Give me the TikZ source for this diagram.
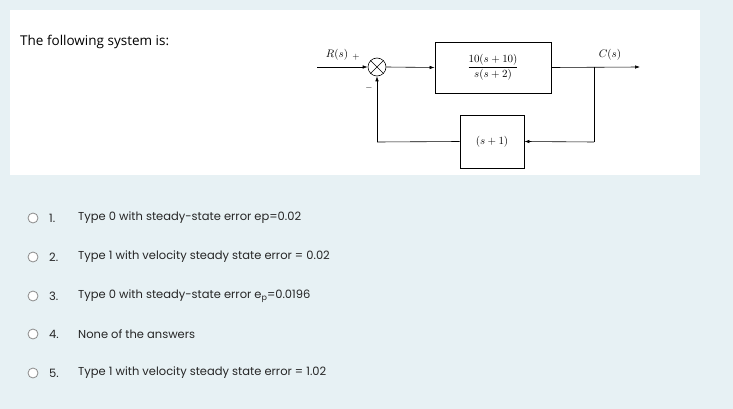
\documentclass[tikz,border=0pt]{standalone}
\usepackage{fontspec}
\setmainfont{Liberation Serif}
\newfontfamily\qfont{Open Sans}
\newfontfamily\afont{Poppins}
\usetikzlibrary{arrows.meta}
\definecolor{bgc}{HTML}{E7F1F4}
\definecolor{radio}{HTML}{8A8A8A}
\tikzset{blk/.style={draw,line width=0.8pt,inner sep=0pt},
 sig/.style={line width=0.6pt,-{Latex[length=5pt,width=3.5pt]}},
 wire/.style={line width=0.6pt},
 opt/.style={anchor=west,font=\afont\fontsize{11.5}{13}\selectfont,text=black!85,inner sep=0pt},
 rad/.style={circle,draw=radio,line width=0.8pt,minimum size=10pt,inner sep=0pt,fill=white}}
\begin{document}
\begin{tikzpicture}[x=1pt,y=-1pt]
\useasboundingbox (0,0) rectangle (733,409);
\fill[bgc] (0,0) rectangle (733,409);
\fill[white] (10,10) rectangle (700,175);
\node[anchor=west,font=\qfont\fontsize{13.5}{15}\selectfont,inner sep=0pt] (title) at (20,42) {The following system is:};
\coordinate (in) at (317,67);
\node[circle,draw,line width=0.6pt,minimum size=18pt,inner sep=0pt] (sum) at (377,67) {};
\draw[line width=0.6pt] (sum.north west) -- (sum.south east) (sum.north east) -- (sum.south west);
\node[blk,minimum width=116pt,minimum height=51pt] (g) at (493,67.5) {};
\node[font=\fontsize{10.5}{12}\selectfont] (gt) at (493,67) {$\displaystyle\frac{10(s+10)}{s(s+2)}$};
\node[blk,minimum width=64pt,minimum height=53pt] (h) at (492,141.5) {};
\node[font=\fontsize{10.5}{12}\selectfont] (ht) at (492,142) {$(s+1)$};
\coordinate (br) at (594,67);
\coordinate (out) at (640,67);
\coordinate (fb) at (594,142);
\coordinate (fl) at (377,142);
\draw[sig] (in) -- (sum.west);
\draw[sig] (sum.east) -- (g.west);
\draw[sig] (g.east) -- (out);
\draw[wire] (br) -- (fb);
\draw[sig] (fb) -- (h.east);
\draw[wire] (h.west) -- (fl);
\draw[sig] (fl) -- (sum.south);
\node[font=\fontsize{10.5}{12}\selectfont] (rl) at (337,55) {$R(s)$};
\node[font=\fontsize{9}{10}\selectfont] (pl) at (356,57) {$+$};
\node[font=\fontsize{9}{10}\selectfont] (ml) at (369,88) {$-$};
\node[font=\fontsize{10.5}{12}\selectfont] (cl) at (610,55) {$C(s)$};
\node[rad] (r1) at (33,218) {};
\node[opt] (n1) at (49,218) {1.};
\node[opt] (o1) at (78,218) {Type 0 with steady-state error ep=0.02};
\node[rad] (r2) at (33,257) {};
\node[opt] (n2) at (49,257) {2.};
\node[opt] (o2) at (78,257) {Type 1 with velocity steady state error = 0.02};
\node[rad] (r3) at (33,296) {};
\node[opt] (n3) at (49,296) {3.};
\node[opt] (o3) at (78,296) {Type 0 with steady-state error e\raisebox{-0.35ex}{\fontsize{8}{9}\selectfont p}=0.0196};
\node[rad] (r4) at (33,334) {};
\node[opt] (n4) at (49,334) {4.};
\node[opt] (o4) at (78,334) {None of the answers};
\node[rad] (r5) at (33,373) {};
\node[opt] (n5) at (49,373) {5.};
\node[opt] (o5) at (78,373) {Type 1 with velocity steady state error = 1.02};
\end{tikzpicture}
\end{document}
